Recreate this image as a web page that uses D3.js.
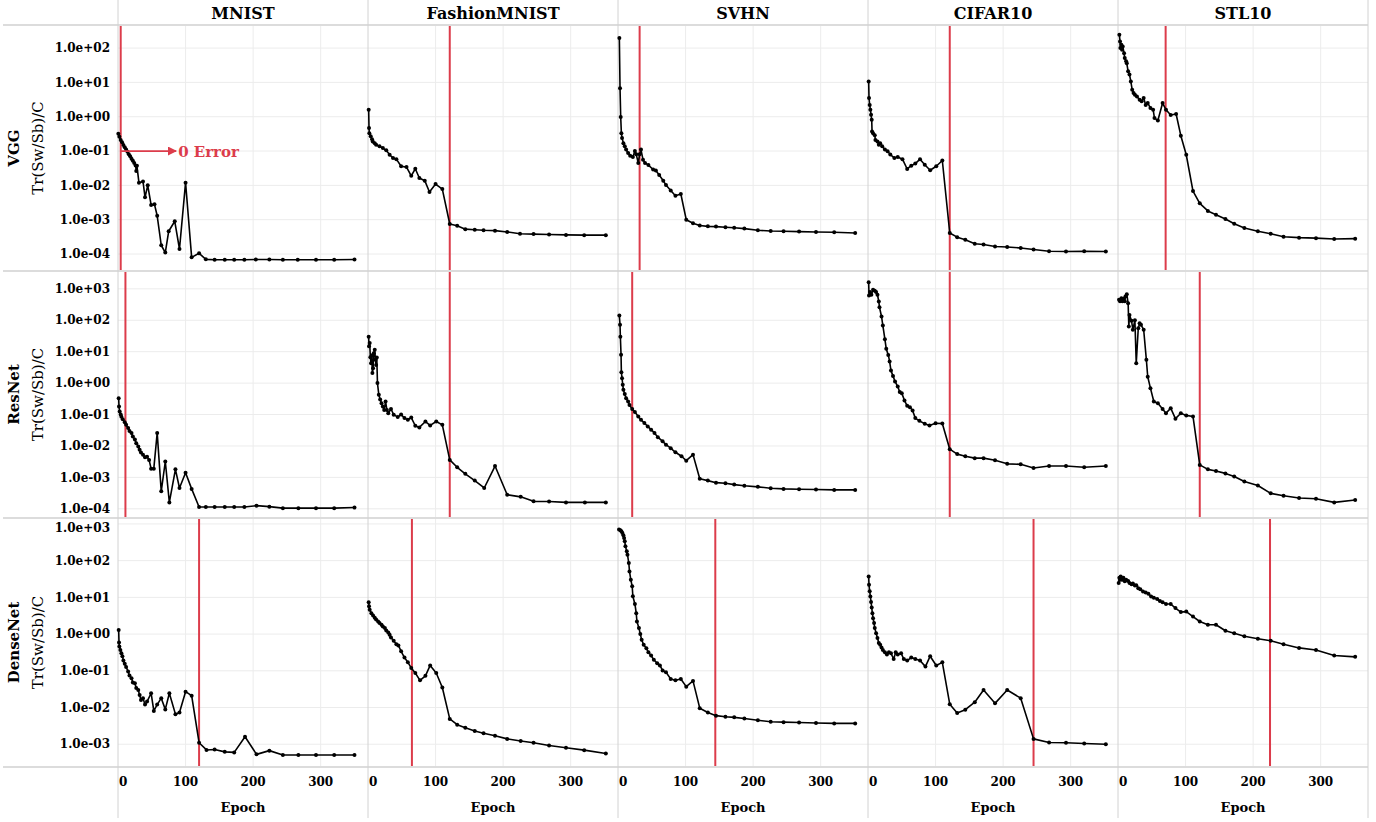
<!DOCTYPE html>
<html>
<head>
<meta charset="utf-8">
<script src="https://cdn.jsdelivr.net/npm/d3@7"></script>
<style>
  body { margin: 0; background: #fff; }
  text { font-family: 'DejaVu Serif', serif; }
</style>
</head>
<body>
<script>
////////////////////////////////////////////////////////////////////////
// Data: one [epoch, Tr(Sw/Sb)/C] list per panel

let models = ['VGG', 'ResNet', 'DenseNet']
let datasets = ['MNIST', 'FashionMNIST', 'SVHN', 'CIFAR10', 'STL10']

let vggMnist = [[0.5,0.32],[2,0.26],[4,0.21],[6,0.18],[8,0.15],[10,0.13],[12,0.11],[14,0.095],[16,0.08],[18,0.07],[20,0.06],[22,0.052],[24,0.045],[26,0.038],[27,0.026],[28,0.037],[31,0.012],[37,0.013],[40,0.0045],[44,0.01],[49,0.0027],[54,0.0028],[58,0.0013],[64,0.00018],[70,0.00011],[75,0.00046],[84,0.0009],[91,0.00014],[100,0.012],[109,0.00008],[120,0.000105],[130,0.00007],[143,0.000068],[158,6.8e-5],[172,6.8e-5],[187,6.8e-5],[204,6.9e-5],[224,6.9e-5],[244,6.8e-5],[266,6.8e-5],[293,6.8e-5],[320,6.8e-5],[350,6.9e-5]]
let vggFashion = [[1,1.6],[1.5,0.47],[2,0.33],[4,0.27],[6,0.22],[7,0.19],[10,0.17],[12,0.153],[17,0.137],[22,0.122],[27,0.105],[32,0.078],[37,0.0625],[42,0.058],[49,0.036],[57,0.034],[64,0.019],[70,0.0305],[76,0.0164],[84,0.0137],[91,0.0064],[100,0.0109],[110,0.0078],[121,0.00075],[132,0.00067],[144,0.00053],[158,0.00051],[171,0.00049],[188,0.00048],[206,0.00044],[225,0.00039],[245,0.00038],[268,0.00037],[293,0.00036],[320,0.000355],[352,0.000355]]
let vggSvhn = [[2,195],[3,6.8],[4,0.98],[5,0.33],[6,0.24],[8,0.17],[10,0.138],[12,0.11],[15,0.087],[18,0.073],[22,0.067],[25,0.1],[27,0.08],[30,0.045],[32,0.08],[34,0.11],[37,0.056],[40,0.045],[45,0.039],[52,0.029],[56,0.027],[61,0.02],[67,0.0137],[71,0.0102],[78,0.0071],[85,0.005],[93,0.0056],[101,0.001],[111,0.00079],[121,0.00068],[133,0.00064],[145,0.00063],[159,0.0006],[172,0.00058],[187,0.00055],[207,0.00049],[226,0.00047],[245,0.00046],[268,0.00045],[293,0.00044],[320,0.00043],[351,0.00041]]
let vggCifar = [[1,10.7],[1.5,3.5],[2.5,2.2],[3.5,1.6],[4.5,1.15],[5.5,0.81],[6,0.37],[7.5,0.33],[10,0.29],[11,0.21],[14,0.19],[16,0.153],[18,0.17],[21,0.137],[25,0.11],[29,0.098],[33,0.079],[39,0.063],[44,0.067],[51,0.058],[58,0.03],[64,0.0375],[70,0.043],[77,0.058],[84,0.04],[92,0.0275],[101,0.036],[110,0.053],[121,0.00041],[132,0.00031],[144,0.00026],[158,0.0002],[171,0.00019],[188,0.000166],[206,0.00016],[226,0.00015],[245,0.000135],[268,0.00012],[293,0.000118],[320,0.00012],[352,0.000118]]
let vggStl = [[2,245],[3,156],[3.5,100],[5,125],[6,90],[7,112],[9,71],[10,51],[12,41],[13,36],[15,21],[17,17],[19,10.7],[21,6.1],[23,4.9],[25,4.4],[28,3.9],[32,3.1],[35,2.8],[38,3.5],[41,2.2],[44,2.5],[48,1.8],[52,1.6],[54,0.91],[59,0.78],[66,2.5],[71,1.6],[78,1.12],[86,1.2],[93,0.28],[101,0.078],[111,0.0068],[121,0.003],[133,0.0018],[145,0.0014],[159,0.00105],[172,0.00076],[187,0.00057],[207,0.00046],[226,0.00039],[245,0.00032],[268,0.0003],[293,0.00029],[320,0.000275],[351,0.00028]]

let resMnist = [[1,0.33],[1.5,0.18],[2.5,0.125],[4,0.1],[5,0.085],[7,0.071],[10,0.057],[12,0.047],[15,0.037],[17,0.03],[20,0.026],[22,0.02],[25,0.016],[27,0.0123],[30,0.0097],[32,0.0076],[34,0.0062],[37,0.0053],[40,0.0044],[43,0.0045],[46,0.0036],[49,0.0019],[53,0.0019],[58,0.026],[64,0.00036],[70,0.0032],[76,0.00016],[85,0.0018],[91,0.00046],[100,0.0014],[109,0.00043],[120,0.000114],[130,0.000114],[143,0.000114],[158,0.000114],[172,0.000114],[187,0.000114],[205,0.000126],[224,0.000117],[244,0.000105],[267,0.000105],[293,0.000105],[320,0.000105],[350,0.00011]]
let resFashion = [[1,30],[1.5,15],[2.5,19],[3.5,6.6],[4.5,4.3],[5.5,7.6],[6.5,2.1],[7.5,3],[8.5,9],[10,11.5],[11,5.5],[12,3.8],[13,6.5],[14,1.0],[16,0.43],[18,0.3],[20,0.23],[22,0.18],[24,0.14],[26,0.26],[28,0.14],[30,0.11],[34,0.15],[38,0.099],[44,0.083],[49,0.1],[54,0.077],[59,0.068],[64,0.08],[70,0.044],[76,0.039],[85,0.06],[92,0.045],[101,0.06],[110,0.047],[121,0.0036],[132,0.0021],[144,0.0013],[158,0.00079],[172,0.00046],[188,0.0023],[206,0.00028],[226,0.00024],[245,0.000173],[268,0.00017],[293,0.00016],[321,0.00016],[352,0.00016]]
let resSvhn = [[2,141],[3,72],[3.5,30],[4.5,8],[5,2.2],[6,1.44],[7,0.89],[8,0.61],[10,0.45],[12,0.33],[15,0.26],[17,0.2],[21,0.15],[25,0.12],[30,0.087],[34,0.068],[39,0.054],[44,0.042],[49,0.033],[54,0.026],[59,0.019],[66,0.014],[71,0.011],[78,0.0085],[85,0.0063],[94,0.0047],[101,0.0034],[111,0.0053],[121,0.00091],[133,0.00079],[145,0.00068],[159,0.00065],[172,0.00059],[187,0.00054],[207,0.0005],[226,0.00045],[245,0.00043],[268,0.00042],[293,0.00041],[320,0.0004],[351,0.0004]]
let resCifar = [[1,1620],[1.5,615],[3,790],[5,650],[7.5,930],[10,870],[12,790],[14,650],[16,395],[17,260],[20,132],[22,68],[25,25],[27,12.3],[30,7.9],[32,4.9],[34,2.5],[37,1.7],[40,1.13],[44,0.78],[47,0.52],[50,0.48],[54,0.28],[58,0.19],[62,0.17],[66,0.135],[70,0.077],[76,0.063],[84,0.051],[91,0.045],[100,0.053],[110,0.052],[121,0.0079],[132,0.0055],[144,0.0047],[158,0.0041],[171,0.0041],[188,0.0035],[206,0.0027],[226,0.0026],[245,0.002],[268,0.0023],[293,0.0023],[320,0.0021],[352,0.0023]]
let resStl = [[1.5,447],[3,400],[5,500],[6.5,400],[8,480],[10,400],[11,570],[13,675],[15,348],[16,63],[17,148],[20,96],[22,50],[25,100],[27,4.3],[30,56],[32,81],[34,72],[38,50],[42,5.5],[44,1.6],[48,0.69],[53,0.26],[59,0.23],[66,0.15],[71,0.11],[78,0.16],[85,0.074],[93,0.11],[101,0.094],[111,0.087],[121,0.0025],[133,0.0018],[145,0.0016],[159,0.00134],[172,0.00107],[187,0.00074],[207,0.00055],[226,0.00031],[245,0.00026],[268,0.00022],[293,0.00021],[320,0.00016],[351,0.00019]]

let denseMnist = [[1,1.3],[1.5,0.59],[2,0.46],[3.5,0.37],[5,0.3],[6.5,0.25],[8,0.19],[10,0.155],[12,0.126],[15,0.096],[17,0.074],[20,0.063],[22,0.048],[25,0.046],[27,0.034],[30,0.03],[32,0.022],[34,0.016],[37,0.018],[40,0.012],[43,0.0145],[49,0.0245],[53,0.0081],[58,0.012],[64,0.018],[70,0.0089],[76,0.0245],[85,0.0066],[91,0.0073],[100,0.027],[109,0.021],[120,0.0011],[131,0.0007],[143,0.00072],[158,0.00062],[172,0.0006],[188,0.0016],[205,0.00053],[224,0.00067],[244,0.00051],[267,0.00051],[293,0.00051],[320,0.00051],[350,0.00051]]
let denseFashion = [[1,7.4],[1.5,5.7],[2.5,4.6],[5,3.7],[7.5,3.2],[10,2.8],[12,2.5],[15,2.2],[17,2.0],[20,1.8],[22,1.6],[25,1.46],[27,1.26],[30,1.1],[32,0.96],[34,0.81],[38,0.66],[42,0.53],[45,0.49],[49,0.34],[54,0.23],[59,0.17],[64,0.12],[70,0.087],[77,0.055],[85,0.073],[92,0.14],[101,0.087],[110,0.035],[121,0.0049],[132,0.0034],[144,0.0028],[158,0.0023],[171,0.002],[188,0.0017],[206,0.0014],[226,0.00123],[245,0.0011],[268,0.00092],[293,0.0008],[320,0.00069],[352,0.00056]]
let denseSvhn = [[1.5,700],[3.5,670],[5,630],[6.5,565],[8,490],[9,415],[10,340],[11,245],[13,180],[14,145],[16,86],[17,51],[19,30],[21,20],[22,10.7],[25,6.6],[27,3.7],[28,2.2],[31,1.46],[33,1.0],[35,0.7],[38,0.51],[42,0.41],[45,0.32],[49,0.26],[53,0.2],[58,0.16],[62,0.14],[66,0.102],[71,0.092],[78,0.06],[85,0.055],[93,0.06],[101,0.037],[111,0.053],[121,0.0096],[133,0.0073],[145,0.006],[159,0.0056],[172,0.0054],[187,0.005],[207,0.0045],[226,0.0041],[245,0.004],[268,0.0039],[293,0.0038],[320,0.0037],[351,0.0037]]
let denseCifar = [[1,37],[1.5,22],[2.5,14.6],[3.5,10.6],[4.5,7.5],[5.5,5.3],[6.5,3.7],[7.5,2.7],[9,2.0],[10,1.46],[12,1.06],[14,0.78],[16,0.57],[18,0.51],[20,0.43],[22,0.37],[25,0.32],[28,0.28],[31,0.32],[34,0.3],[38,0.21],[41,0.32],[44,0.28],[49,0.3],[53,0.21],[58,0.19],[64,0.23],[70,0.21],[77,0.19],[85,0.13],[92,0.25],[101,0.14],[110,0.17],[121,0.0123],[132,0.0071],[144,0.0087],[158,0.014],[171,0.03],[188,0.013],[206,0.03],[226,0.018],[245,0.0014],[268,0.00112],[293,0.0011],[320,0.00105],[352,0.001]]
let denseStl = [[1,24.6],[2,34],[3,30],[4,37],[6,30],[8,34],[10,27.5],[12,30],[15,28],[17,24.6],[20,22.6],[22,24],[25,21],[27,21.5],[30,17.7],[33,16.6],[37,14.5],[41,13.5],[45,12.6],[49,10.6],[53,9.8],[58,9],[62,7.9],[66,7.4],[71,6.6],[78,6.6],[85,5.1],[93,3.98],[101,4.1],[111,3.0],[121,2.2],[133,1.8],[145,1.8],[159,1.23],[172,1.06],[187,0.87],[207,0.75],[226,0.66],[245,0.53],[268,0.42],[293,0.37],[320,0.26],[351,0.24]]

let series = [
  [vggMnist, vggFashion, vggSvhn, vggCifar, vggStl],
  [resMnist, resFashion, resSvhn, resCifar, resStl],
  [denseMnist, denseFashion, denseSvhn, denseCifar, denseStl]
]

// epoch at which training error reaches 0 (red vertical lines)
let zeroErrorEpochs = [
  [4, 121, 32, 121, 70.5],
  [11, 121, 21, 121, 121],
  [120, 65, 144, 245, 225]
]

let xTicks = [0, 100, 200, 300]
let yTicks = [
  [1e-4, 1e-3, 1e-2, 1e-1, 1e0, 1e1, 1e2],
  [1e-4, 1e-3, 1e-2, 1e-1, 1e0, 1e1, 1e2, 1e3],
  [1e-3, 1e-2, 1e-1, 1e0, 1e1, 1e2, 1e3]
]
let yDomains = [[3.2e-5, 470], [5.1e-5, 3700], [2.4e-4, 1450]]
let xDomain = [0, 370]

////////////////////////////////////////////////////////////////////////
// Layout

let width = 1376
let height = 822
let left = 118
let colW = 250
let rowEdges = [25, 271, 518, 767]
let red = '#dc3c4b'

let svg = d3
  .select('body')
  .append('svg')
  .attr('width', width)
  .attr('height', height)

svg.append('defs')
  .append('marker')
  .attr('id', 'arrow')
  .attr('viewBox', '0 0 10 10')
  .attr('refX', 9)
  .attr('refY', 5)
  .attr('markerWidth', 5)
  .attr('markerHeight', 5)
  .attr('orient', 'auto')
  .append('path')
  .attr('d', 'M0,0 L10,5 L0,10 z')
  .attr('fill', red)

function fmtExp (v) {
  let e = Math.round(Math.log10(v))
  return '1.0e' + (e < 0 ? '-' : '+') + String(Math.abs(e)).padStart(2, '0')
}

let xScales = datasets.map(function (d, c) {
  return d3.scaleLinear().domain(xDomain).range([left + c * colW, left + (c + 1) * colW])
})
let yScales = models.map(function (m, r) {
  return d3.scaleLog().domain(yDomains[r]).range([rowEdges[r + 1], rowEdges[r]])
})

// gridlines
models.forEach(function (m, r) {
  datasets.forEach(function (d, c) {
    let x = xScales[c]
    let y = yScales[r]
    let g = svg.append('g')
    g.selectAll('.hgrid')
      .data(yTicks[r])
      .enter()
      .append('line')
      .attr('x1', x.range()[0])
      .attr('x2', x.range()[1])
      .attr('y1', v => y(v))
      .attr('y2', v => y(v))
      .attr('stroke', '#ececec')
    g.selectAll('.vgrid')
      .data(xTicks.slice(1))
      .enter()
      .append('line')
      .attr('x1', v => x(v))
      .attr('x2', v => x(v))
      .attr('y1', rowEdges[r])
      .attr('y2', rowEdges[r + 1])
      .attr('stroke', '#ececec')
  })
})

// frame lines
svg.selectAll('.rowline')
  .data(rowEdges)
  .enter()
  .append('line')
  .attr('x1', 3)
  .attr('x2', left + 5 * colW)
  .attr('y1', d => d)
  .attr('y2', d => d)
  .attr('stroke', '#dcdcdc')
  .attr('stroke-width', 2)

svg.selectAll('.colline')
  .data(d3.range(6))
  .enter()
  .append('line')
  .attr('x1', c => left + c * colW)
  .attr('x2', c => left + c * colW)
  .attr('y1', 0)
  .attr('y2', 818)
  .attr('stroke', '#d2d2d2')
  .attr('stroke-width', 1)

// red lines and data
models.forEach(function (m, r) {
  datasets.forEach(function (d, c) {
    let x = xScales[c]
    let y = yScales[r]
    let g = svg.append('g')

    g.append('line')
      .attr('x1', x(zeroErrorEpochs[r][c]))
      .attr('x2', x(zeroErrorEpochs[r][c]))
      .attr('y1', rowEdges[r] + 1)
      .attr('y2', rowEdges[r + 1] - 1)
      .attr('stroke', red)
      .attr('stroke-width', 2)

    let line = d3.line()
      .x(p => x(p[0]))
      .y(p => y(p[1]))

    g.append('path')
      .datum(series[r][c])
      .attr('d', line)
      .attr('fill', 'none')
      .attr('stroke', '#000')
      .attr('stroke-width', 1.6)
      .attr('stroke-linejoin', 'round')

    g.selectAll('circle')
      .data(series[r][c])
      .enter()
      .append('circle')
      .attr('cx', p => x(p[0]))
      .attr('cy', p => y(p[1]))
      .attr('r', 2)
      .attr('fill', '#000')
  })
})

// "0 Error" annotation on VGG / MNIST
svg.append('line')
  .attr('x1', xScales[0](zeroErrorEpochs[0][0]))
  .attr('x2', xScales[0](86))
  .attr('y1', yScales[0](0.1))
  .attr('y2', yScales[0](0.1))
  .attr('stroke', red)
  .attr('stroke-width', 1.8)
  .attr('marker-end', 'url(#arrow)')

svg.append('text')
  .attr('x', xScales[0](89))
  .attr('y', yScales[0](0.1))
  .attr('dy', '0.4em')
  .attr('fill', red)
  .attr('font-size', 15)
  .attr('font-weight', 'bold')
  .text('0 Error')

// y axis tick labels (first column only), kept inside the row
models.forEach(function (m, r) {
  svg.selectAll('.ylab' + r)
    .data(yTicks[r])
    .enter()
    .append('text')
    .attr('x', 110)
    .attr('y', v => Math.max(yScales[r](v), rowEdges[r] + 10))
    .attr('dy', '0.35em')
    .attr('text-anchor', 'end')
    .attr('font-size', 12)
    .attr('font-weight', 'bold')
    .text(fmtExp)

  let cy = (rowEdges[r] + rowEdges[r + 1]) / 2
  svg.append('text')
    .attr('transform', 'translate(14,' + cy + ') rotate(-90)')
    .attr('text-anchor', 'middle')
    .attr('dominant-baseline', 'central')
    .attr('font-size', 15)
    .attr('font-weight', 'bold')
    .text(m)
  svg.append('text')
    .attr('transform', 'translate(38,' + cy + ') rotate(-90)')
    .attr('text-anchor', 'middle')
    .attr('dominant-baseline', 'central')
    .attr('font-size', 15)
    .text('Tr(Sw/Sb)/C')
})

// column titles, x tick labels, x titles
datasets.forEach(function (d, c) {
  let x = xScales[c]
  let cx = left + c * colW + colW / 2
  svg.append('text')
    .attr('x', cx)
    .attr('y', 13)
    .attr('dy', '0.35em')
    .attr('text-anchor', 'middle')
    .attr('font-size', 16)
    .attr('font-weight', 'bold')
    .text(d)

  svg.selectAll('.xlab' + c)
    .data(xTicks)
    .enter()
    .append('text')
    .attr('x', v => (v === 0 ? x(v) + 1 : x(v)))
    .attr('y', 782)
    .attr('dy', '0.35em')
    .attr('text-anchor', v => (v === 0 ? 'start' : 'middle'))
    .attr('font-size', 12)
    .attr('font-weight', 'bold')
    .text(v => v)

  svg.append('text')
    .attr('x', cx)
    .attr('y', 807)
    .attr('dy', '0.35em')
    .attr('text-anchor', 'middle')
    .attr('font-size', 13)
    .attr('font-weight', 'bold')
    .text('Epoch')
})
</script>
</body>
</html>
